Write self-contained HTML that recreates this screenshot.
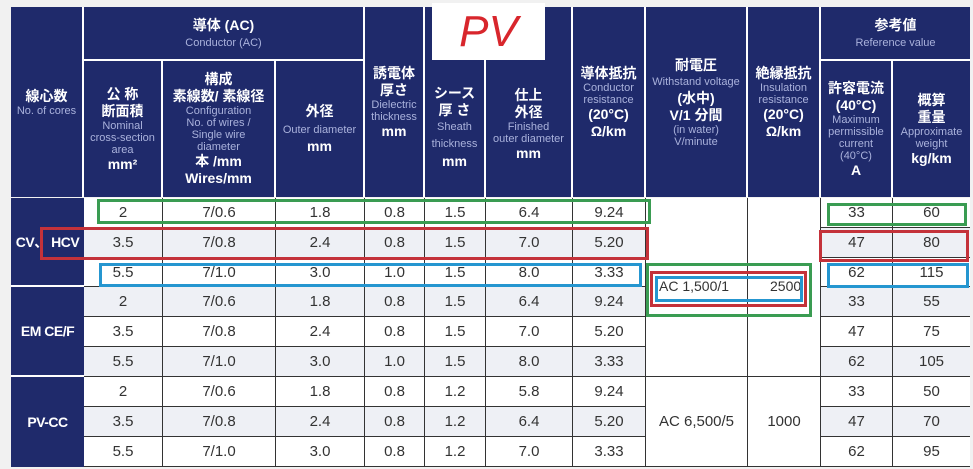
<!DOCTYPE html>
<html><head><meta charset="utf-8"><style>
body{margin:0;width:973px;height:469px;background:#f1f1f1;position:relative;overflow:hidden;font-family:"Liberation Sans","Noto Sans CJK JP",sans-serif}
.a{position:absolute;box-sizing:border-box}
.h{background:#1f2a6b;color:#fff;display:flex;flex-direction:column;align-items:center;justify-content:center;text-align:center;font-weight:bold;font-size:14px;line-height:17px;border-right:2px solid #fff}
.h small{font-weight:normal;font-size:11px;color:#aab2dc;line-height:12px;display:block}
.c{display:flex;align-items:center;justify-content:center;font-size:15px;color:#333;border-right:1px solid #333;border-bottom:1px solid #333}
.g{background:#1f2a6b;color:#fff;font-weight:bold;font-size:14px;display:flex;align-items:center;justify-content:center;border-bottom:2px solid #fff;white-space:nowrap;letter-spacing:-0.5px}
.b{border-width:3px;border-style:solid}
</style></head><body>
<div class="a h" style="left:11px;top:7px;width:73px;height:190px">線心数<small>No. of cores</small></div>
<div class="a h" style="left:84px;top:7px;width:281px;height:54px;border-bottom:2px solid #fff">導体 (AC)<small style="margin-top:3px">Conductor (AC)</small></div>
<div class="a h" style="left:84px;top:61px;width:79px;height:136px">公 称<br>断面積<small>Nominal<br>cross-section<br>area</small>mm²</div>
<div class="a h" style="left:163px;top:61px;width:113px;height:136px">構成<br>素線数/ 素線径<small>Configuration<br>No. of wires /<br>Single wire<br>diameter</small>本 /mm<br>Wires/mm</div>
<div class="a h" style="left:276px;top:61px;width:89px;height:136px">外径<small style="margin:4px 0 2px">Outer diameter</small>mm</div>
<div class="a h" style="left:365px;top:7px;width:60px;height:190px">誘電体<br>厚さ<small>Dielectric<br>thickness</small>mm</div>
<div class="a h" style="left:425px;top:7px;width:61px;height:190px;padding-top:50px">シース<br>厚 さ<small style="line-height:17px">Sheath<br>thickness</small>mm</div>
<div class="a h" style="left:486px;top:7px;width:87px;height:190px;padding-top:45px">仕上<br>外径<small>Finished<br>outer diameter</small>mm</div>
<div class="a h" style="left:573px;top:7px;width:73px;height:190px">導体抵抗<small>Conductor<br>resistance</small>(20°C)<br>Ω/km</div>
<div class="a h" style="left:646px;top:7px;width:102px;height:190px">耐電圧<small style="margin:2px 0">Withstand voltage</small>(水中)<br>V/1 分間<small>(in water)<br>V/minute</small></div>
<div class="a h" style="left:748px;top:7px;width:73px;height:190px">絶縁抵抗<small>Insulation<br>resistance</small>(20°C)<br>Ω/km</div>
<div class="a h" style="left:821px;top:7px;width:149px;height:54px;border-bottom:2px solid #fff;border-right:0">参考値<small style="margin-top:3px">Reference value</small></div>
<div class="a h" style="left:821px;top:61px;width:72px;height:136px">許容電流<br>(40°C)<small>Maximum<br>permissible<br>current<br>(40°C)</small>A</div>
<div class="a h" style="left:893px;top:61px;width:77px;height:136px;border-right:0">概算<br>重量<small>Approximate<br>weight</small>kg/km</div>
<div class="a" style="left:432px;top:3px;width:113px;height:57px;background:#fff;color:#d8262c;font-style:italic;font-size:44px;line-height:57px;text-align:center;font-family:'Liberation Sans',sans-serif">PV</div>
<div id="rows"></div>
<div class="a g" style="left:11px;top:198px;width:73px;height:89px">CV、 HCV</div>
<div class="a g" style="left:11px;top:287px;width:73px;height:90px">EM CE/F</div>
<div class="a g" style="left:11px;top:377px;width:73px;height:90px;border:0">PV-CC</div>
<div class="a c" style="left:646px;top:198px;width:102px;height:179px;background:#fff"></div>
<div class="a c" style="left:748px;top:198px;width:73px;height:179px;background:#fff"></div>
<div class="a" style="left:659px;top:278px;font-size:14px;color:#333">AC 1,500/1</div>
<div class="a" style="left:770px;top:278px;font-size:14px;color:#333">2500</div>
<div class="a c" style="left:646px;top:377px;width:102px;height:90px;background:#fff">AC 6,500/5</div>
<div class="a c" style="left:748px;top:377px;width:73px;height:90px;background:#fff">1000</div>
<div class="a b" style="left:97px;top:199px;width:554px;height:25px;border-color:#3a9c52"></div>
<div class="a b" style="left:827px;top:203px;width:140px;height:23px;border-color:#3a9c52"></div>
<div class="a b" style="left:40px;top:227px;width:609px;height:33px;border-color:#c4323a"></div>
<div class="a b" style="left:819px;top:230px;width:150px;height:32px;border-color:#c4323a"></div>
<div class="a b" style="left:99px;top:263px;width:543px;height:24px;border-color:#2596d0"></div>
<div class="a b" style="left:827px;top:263px;width:142px;height:25px;border-color:#2596d0"></div>
<div class="a b" style="left:646px;top:263px;width:166px;height:54px;border-color:#3a9c52"></div>
<div class="a b" style="left:650px;top:271px;width:157px;height:36px;border-color:#c4323a"></div>
<div class="a b" style="left:655px;top:276px;width:148px;height:26px;border-color:#2596d0"></div>
<script>
var data=[["2","7/0.6","1.8","0.8","1.5","6.4","9.24","33","60"],["3.5","7/0.8","2.4","0.8","1.5","7.0","5.20","47","80"],["5.5","7/1.0","3.0","1.0","1.5","8.0","3.33","62","115"],["2","7/0.6","1.8","0.8","1.5","6.4","9.24","33","55"],["3.5","7/0.8","2.4","0.8","1.5","7.0","5.20","47","75"],["5.5","7/1.0","3.0","1.0","1.5","8.0","3.33","62","105"],["2","7/0.6","1.8","0.8","1.2","5.8","9.24","33","50"],["3.5","7/0.8","2.4","0.8","1.2","6.4","5.20","47","70"],["5.5","7/1.0","3.0","0.8","1.2","7.0","3.33","62","95"]];
var xs=[84,163,276,365,425,486,573,646,748,821,893,970],ys=[198,228,258,287,317,347,377,407,437,467],cols=[0,1,2,3,4,5,6,9,10],h="";
for(var r=0;r<9;r++){var bg=r%2?"#eef0f5":"#fff";for(var k=0;k<9;k++){var i=cols[k];h+='<div class="a c" style="left:'+xs[i]+'px;top:'+ys[r]+'px;width:'+(xs[i+1]-xs[i])+'px;height:'+(ys[r+1]-ys[r])+'px;background:'+bg+(i==10?';border-right:0':'')+'">'+data[r][k]+'</div>';}}
document.getElementById("rows").innerHTML=h;
</script>
</body></html>
